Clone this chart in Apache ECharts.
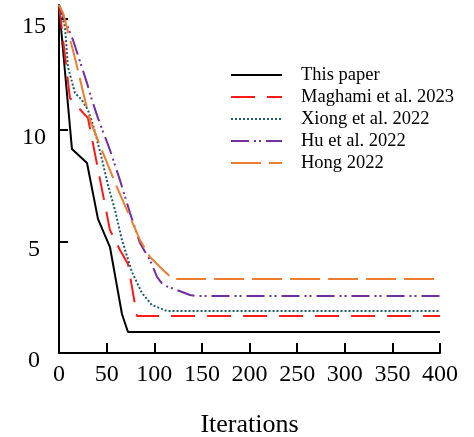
<!DOCTYPE html>
<html>
<head>
<meta charset="utf-8">
<script src="https://cdn.jsdelivr.net/npm/echarts@6/dist/echarts.min.js"></script>
<style>
  html, body { margin: 0; padding: 0; background: #fff; }
  #chart { width: 474px; height: 437px; }
</style>
</head>
<body>
<div id="chart"></div>
<script>
// [iteration, value]
const thisPaper = [[0, 15.6], [13.6, 9.14], [29.4, 8.52], [40.9, 6.01], [53.5, 4.75], [66.1, 1.75], [72.4, 0.94], [400, 0.94]]
const maghami = [[0, 15.6], [11.5, 11.43], [18.9, 11.07], [30.4, 10.53], [53.5, 5.51], [64, 4.62], [72.4, 3.99], [81.9, 1.66], [400, 1.66]]
const xiong = [[0, 15.6], [6.3, 14.61], [9.4, 12.82], [16.8, 11.65], [24.1, 11.34], [30.4, 10.89], [35.7, 10.22], [44.1, 8.87], [51.4, 7.53], [58.8, 6.41], [66.1, 5.06], [76.6, 3.63], [87.1, 2.69], [97.6, 2.15], [113.4, 1.88], [400, 1.88]]
const hu = [[0, 15.6], [14.7, 14.03], [29.4, 12.1], [34.6, 11.34], [40.9, 10.53], [53.5, 9.1], [64, 7.75], [74.5, 6.28], [85, 4.93], [95.5, 4.17], [102.9, 3.41], [109.2, 3.05], [123.9, 2.82], [137.5, 2.6], [144.9, 2.55], [400, 2.55]]
const hong = [[0, 15.6], [4.2, 15.24], [16.8, 13.22], [27.3, 11.34], [32.5, 10.44], [44.1, 9.19], [59.8, 7.53], [74.5, 6.1], [85, 5.07], [95.5, 4.3], [109.2, 3.72], [119.7, 3.32], [400, 3.32]]

const names = ['This paper', 'Maghami et al. 2023', 'Xiong et al. 2022', 'Hu et al. 2022', 'Hong 2022']
const xTicks = [0, 50, 100, 150, 200, 250, 300, 350, 400]
const yTicks = [0, 5, 10, 15]

const font = 'Liberation Serif'

const chart = echarts.init(document.getElementById('chart'))

function line(name, data, color, dash) {
  return {
    name: name,
    type: 'line',
    data: data,
    symbol: 'none',
    animation: false,
    lineStyle: { color: color, width: 2, type: dash },
    itemStyle: { color: color }
  }
}

const option = {
  animation: false,
  grid: { left: 59, right: 34, top: 5, bottom: 84, outerBoundsMode: 'none' },
  legend: {
    orient: 'vertical',
    left: 225,
    top: 59,
    itemWidth: 51,
    itemHeight: 14,
    itemGap: 0,
    itemStyle: { opacity: 0 },
    textStyle: { fontFamily: font, fontSize: 18.5, color: '#000', lineHeight: 22, padding: [0, 0, 0, 14] },
    data: names
  },
  xAxis: {
    type: 'value',
    min: xTicks[0],
    max: xTicks[xTicks.length - 1],
    interval: 50,
    name: 'Iterations',
    nameLocation: 'middle',
    nameGap: 59,
    nameTextStyle: { fontFamily: font, fontSize: 26, color: '#000' },
    axisLine: { lineStyle: { color: '#000', width: 2 } },
    axisTick: { inside: true, length: 10, lineStyle: { color: '#000', width: 2 } },
    axisLabel: { fontFamily: font, fontSize: 24, color: '#000', margin: 10 },
    splitLine: { show: false }
  },
  yAxis: {
    type: 'value',
    min: yTicks[0],
    max: 15.6,
    interval: 5,
    axisLine: { show: true, lineStyle: { color: '#000', width: 2 } },
    axisTick: { show: true, inside: true, length: 9, lineStyle: { color: '#000', width: 2 } },
    axisLabel: {
      fontFamily: font, fontSize: 24, color: '#000',
      margin: 25, align: 'center', verticalAlign: 'top', lineHeight: 16, showMaxLabel: false
    },
    splitLine: { show: false }
  },
  series: [
    line(names[0], thisPaper, '#000000', 'solid'),
    line(names[1], maghami, '#ff1a1a', [24, 12]),
    line(names[2], xiong, '#1d5c68', [2, 2]),
    line(names[3], hu, '#7030a0', [18, 5, 2, 3, 2, 5]),
    line(names[4], hong, '#ed7d31', [30, 8])
  ]
}

chart.setOption(option)
</script>
</body>
</html>
